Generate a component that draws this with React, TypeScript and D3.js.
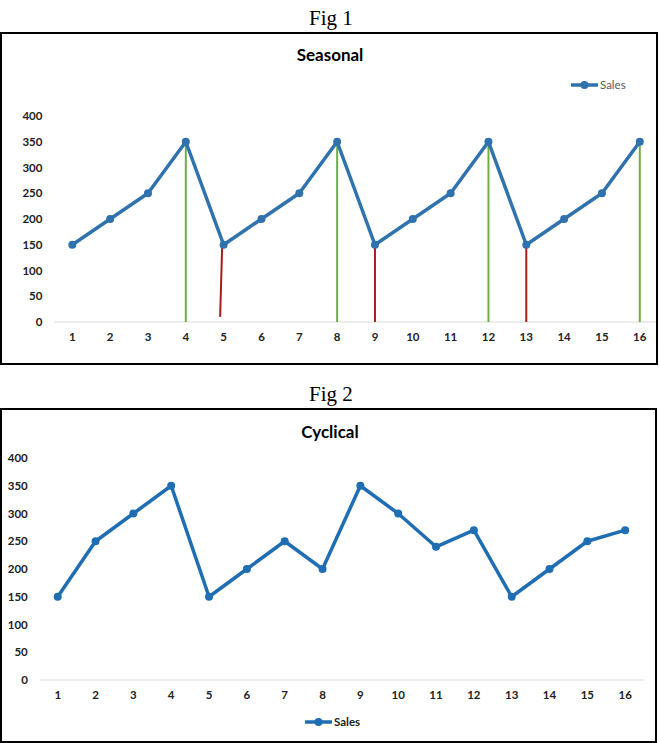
import * as d3 from "d3";
import React from "react";

const periods = d3.range(1, 17).map(String);
const seasonalSales = [150, 200, 250, 350, 150, 200, 250, 350, 150, 200, 250, 350, 150, 200, 250, 350];
const cyclicalSales = [150, 250, 300, 350, 150, 200, 250, 200, 350, 300, 240, 270, 150, 200, 250, 270];
const yTicks = [0, 50, 100, 150, 200, 250, 300, 350, 400];

// hand-drawn markers on Fig 1: peaks (green) and troughs (red)
const peakPeriods = ["4", "8", "12", "16"];
const troughMarks = [
  { period: "5", top: 145, bottom: 10 },
  { period: "9", top: 150, bottom: 0 },
  { period: "13", top: 150, bottom: 0 },
];

const FONT = "Lato, 'Open Sans', sans-serif";

interface ChartProps {
  box: { x: number; y: number; w: number; h: number };
  caption: string;
  captionY: number;
  title: string;
  titleY: number;
  values: number[];
  xRange: [number, number];
  yRange: [number, number];
  color: string;
  legend: { x: number; y: number; bold: boolean };
  children?: (x: d3.ScaleBand<string>, y: d3.ScaleLinear<number, number>) => React.ReactNode;
}

const LineChart: React.FC<ChartProps> = ({
  box, caption, captionY, title, titleY, values, xRange, yRange, color, legend, children,
}) => {
  const x = d3.scaleBand().domain(periods).range(xRange);
  const y = d3.scaleLinear().domain([0, 400]).range(yRange);
  const cx = (p: string) => (x(p) ?? 0) + x.bandwidth() / 2;
  const line = d3
    .line<number>()
    .x((_, i) => cx(periods[i]))
    .y((d) => y(d));
  const axisEnd = Math.min(xRange[1], box.x + box.w - 1);

  return (
    <g>
      <text x={331} y={captionY} textAnchor="middle" fontFamily="'Liberation Serif', serif" fontSize={21}>
        {caption}
      </text>
      <rect x={box.x} y={box.y} width={box.w} height={box.h} fill="#fff" stroke="#000" strokeWidth={2} />
      <text x={330} y={titleY} textAnchor="middle" fontFamily={FONT} fontWeight="bold" fontSize={17}>
        {title}
      </text>

      {yTicks.map((t) => (
        <text key={t} x={xRange[0] - 11} y={y(t) + 4} textAnchor="end" fontFamily={FONT} fontWeight="bold" fontSize={11.5} fill="#222">
          {t}
        </text>
      ))}
      <line x1={xRange[0] + 1} x2={axisEnd} y1={y(0)} y2={y(0)} stroke="#d9d9d9" strokeWidth={1} />
      {periods.map((p) => (
        <text key={p} x={cx(p)} y={y(0) + 19} textAnchor="middle" fontFamily={FONT} fontWeight="bold" fontSize={11.5} fill="#222">
          {p}
        </text>
      ))}

      {children && children(x, y)}

      <path d={line(values) ?? ""} fill="none" stroke={color} strokeWidth={3.5} strokeLinejoin="round" />
      {values.map((v, i) => (
        <circle key={i} cx={cx(periods[i])} cy={y(v)} r={4} fill={color} />
      ))}

      <g transform={`translate(${legend.x},${legend.y})`}>
        <line x1={0} x2={27} y1={0} y2={0} stroke={color} strokeWidth={3.5} />
        <circle cx={13.5} cy={0} r={4} fill={color} />
        <text x={29} y={4} fontFamily={FONT} fontSize={11.5} fontWeight={legend.bold ? "bold" : "normal"} fill={legend.bold ? "#222" : "#595959"}>
          Sales
        </text>
      </g>
    </g>
  );
};

const App: React.FC = () => {
  return (
    <svg width={659} height={743} style={{ position: "absolute", left: 0, top: 0, background: "#fff" }}>
      <rect width={659} height={743} fill="#fff" />
      <LineChart
        box={{ x: 1, y: 33, w: 656, h: 331 }}
        caption="Fig 1"
        captionY={25}
        title="Seasonal"
        titleY={61}
        values={seasonalSales}
        xRange={[53.4, 658.7]}
        yRange={[322, 116]}
        color="#2f72ad"
        legend={{ x: 571, y: 85, bold: false }}
      >
        {(x, y) => {
          const cx = (p: string) => (x(p) ?? 0) + x.bandwidth() / 2;
          return (
            <g>
              {peakPeriods.map((p) => (
                <line key={p} x1={cx(p)} x2={cx(p)} y1={y(seasonalSales[+p - 1])} y2={y(0)} stroke="#70ad47" strokeWidth={2} />
              ))}
              {troughMarks.map((m) => (
                <line
                  key={m.period}
                  x1={cx(m.period) - (m.bottom > 0 ? 1.5 : 0)}
                  x2={cx(m.period) - (m.bottom > 0 ? 3.5 : 0)}
                  y1={y(m.top)}
                  y2={y(m.bottom)}
                  stroke="#a81c1c"
                  strokeWidth={2}
                />
              ))}
            </g>
          );
        }}
      </LineChart>
      <LineChart
        box={{ x: 1, y: 409, w: 655, h: 333 }}
        caption="Fig 2"
        captionY={401}
        title="Cyclical"
        titleY={438}
        values={cyclicalSales}
        xRange={[38.8, 644.1]}
        yRange={[680, 458]}
        color="#1f6db2"
        legend={{ x: 305, y: 722, bold: true }}
      />
    </svg>
  );
};

export default App;
